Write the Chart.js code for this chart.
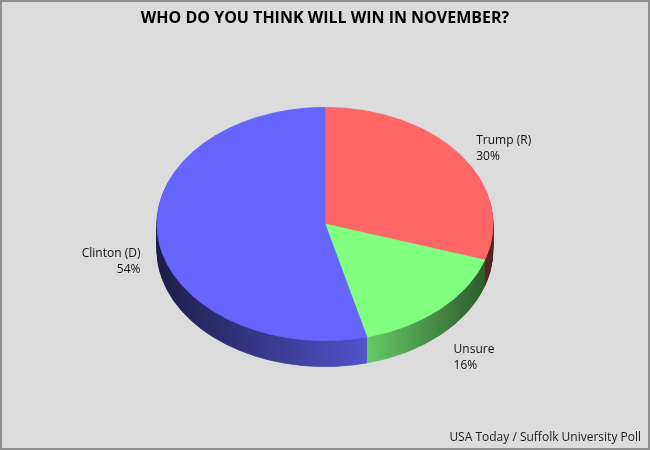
<!DOCTYPE html>
<html lang="en">
  <head>
    <meta charset="UTF-8" />
    <title>Who do you think will win in November?</title>
    <script src="https://cdn.jsdelivr.net/npm/chart.js"></script>
    <style>
      html, body { margin: 0; padding: 0; background: #dcdcdc; }
      #frame {
        width: 650px; height: 450px; box-sizing: border-box;
        border: 2px solid #8f8f8f; background: #dcdcdc;
      }
      canvas { display: block; }
    </style>
  </head>
  <body>
    <div id="frame">
      <canvas id="pollChart" width="646" height="446"></canvas>
    </div>

    <script>
      // Poll data
      const candidates = ['Trump (R)', 'Unsure', 'Clinton (D)'];
      const shares = [30, 16, 54];
      const sliceColors = ['#ff6666', '#80ff80', '#6666ff'];

      // 3D look: vertical squash of the pie and thickness of its side (px)
      const tilt = 0.694;
      const depth = 26;

      function shade(hex, f) {
        const n = parseInt(hex.slice(1), 16);
        const r = Math.round(((n >> 16) & 255) * f);
        const g = Math.round(((n >> 8) & 255) * f);
        const b = Math.round((n & 255) * f);
        return `rgb(${r}, ${g}, ${b})`;
      }

      // Squash the pie into an ellipse and paint its side underneath
      const pie3d = {
        id: 'pie3d',
        beforeDatasetsDraw(chart) {
          const ctx = chart.ctx;
          const arcs = chart.getDatasetMeta(0).data;
          const cx = arcs[0].x, cy = arcs[0].y, R = arcs[0].outerRadius;
          ctx.save();
          ctx.translate(cx, cy);
          ctx.scale(1, tilt);
          ctx.translate(-cx, -cy);

          const sides = arcs.map((arc, i) => {
            const grad = ctx.createLinearGradient(cx - R, 0, cx + R, 0);
            grad.addColorStop(0, shade(sliceColors[i], 0.28));
            grad.addColorStop(0.62, shade(sliceColors[i], 0.8));
            grad.addColorStop(1, shade(sliceColors[i], 0.33));
            return grad;
          });

          for (let d = depth; d >= 1; d--) {
            ctx.save();
            ctx.translate(0, d / tilt);
            arcs.forEach((arc, i) => {
              const saved = arc.options;
              arc.options = Object.assign({}, saved, {
                backgroundColor: sides[i],
                borderColor: sides[i]
              });
              arc.draw(ctx);
              arc.options = saved;
            });
            ctx.restore();
          }
        },
        afterDatasetsDraw(chart) {
          const ctx = chart.ctx;
          ctx.restore();

          // Data labels outside the slices
          const arcs = chart.getDatasetMeta(0).data;
          const cx = arcs[0].x, cy = arcs[0].y, R = arcs[0].outerRadius;
          ctx.save();
          ctx.font = '12px "Open Sans", sans-serif';
          ctx.fillStyle = '#111';
          ctx.textBaseline = 'middle';
          arcs.forEach((arc, i) => {
            const mid = (arc.startAngle + arc.endAngle) / 2;
            const ux = Math.cos(mid), uy = Math.sin(mid);
            const x = cx + (R + 14) * ux;
            const y = cy + depth * 0.7 + (R * tilt + 42) * uy;
            ctx.textAlign = ux >= 0 ? 'left' : 'right';
            const tx = ux >= 0 ? x + 4 : x - 4;
            ctx.fillText(candidates[i], tx, y - 8);
            ctx.fillText(shares[i] + '%', tx, y + 8);
          });
          ctx.restore();
        }
      };

      new Chart(document.getElementById('pollChart'), {
        type: 'pie',
        data: {
          labels: candidates,
          datasets: [{
            data: shares,
            backgroundColor: sliceColors,
            borderColor: sliceColors,
            borderWidth: 1,
            clip: false
          }]
        },
        options: {
          responsive: false,
          animation: false,
          layout: { padding: { left: 7, right: 7, top: 0, bottom: 0 } },
          plugins: {
            legend: { display: false },
            tooltip: { enabled: false },
            title: {
              display: true,
              text: 'WHO DO YOU THINK WILL WIN IN NOVEMBER?',
              color: '#000',
              font: { family: '"Open Sans", sans-serif', size: 16, weight: 'bold', lineHeight: 1.2 },
              padding: { top: 6.4, bottom: 27.9 }
            },
            subtitle: {
              display: true,
              position: 'bottom',
              align: 'end',
              text: 'USA Today / Suffolk University Poll',
              color: '#1a1a1a',
              font: { family: '"Open Sans", sans-serif', size: 12, lineHeight: 1.2 },
              padding: { top: 38.3, bottom: 2.8 }
            }
          }
        },
        plugins: [pie3d]
      });
    </script>
  </body>
</html>
